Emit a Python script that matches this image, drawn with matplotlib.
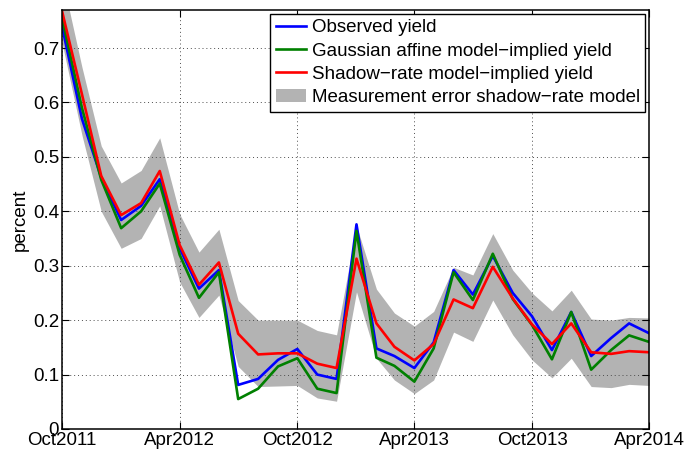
import matplotlib
matplotlib.use('Agg')
import matplotlib.pyplot as plt
import matplotlib.dates as mdates
import pandas as pd

plt.rcParams['font.family'] = ['Liberation Sans', 'DejaVu Sans']
plt.rcParams['font.size'] = 13.5

# monthly data, Oct 2011 - Apr 2014
months = pd.date_range('2011-10-01', '2014-04-01', freq='MS')
observed = [0.74, 0.57, 0.462, 0.384, 0.41, 0.459, 0.332, 0.258, 0.292, 0.081,
            0.092, 0.127, 0.147, 0.10, 0.092, 0.376, 0.148, 0.134, 0.112, 0.159,
            0.292, 0.247, 0.318, 0.25, 0.207, 0.145, 0.215, 0.134, 0.167, 0.194,
            0.176]
gaussian = [0.755, 0.59, 0.458, 0.369, 0.40, 0.451, 0.32, 0.241, 0.288, 0.055,
            0.074, 0.115, 0.130, 0.074, 0.066, 0.364, 0.131, 0.116, 0.087, 0.148,
            0.288, 0.237, 0.322, 0.239, 0.191, 0.128, 0.215, 0.109, 0.145, 0.172,
            0.160]
shadow = [0.768, 0.615, 0.465, 0.393, 0.415, 0.474, 0.338, 0.265, 0.306, 0.175,
          0.137, 0.139, 0.139, 0.12, 0.112, 0.313, 0.194, 0.151, 0.126, 0.156,
          0.238, 0.222, 0.298, 0.240, 0.192, 0.156, 0.194, 0.141, 0.138, 0.143,
          0.141]
band_lo = [0.71, 0.54, 0.40, 0.332, 0.35, 0.41, 0.27, 0.205, 0.246, 0.115,
           0.078, 0.079, 0.08, 0.057, 0.051, 0.252, 0.13, 0.09, 0.065, 0.09,
           0.178, 0.161, 0.237, 0.173, 0.127, 0.094, 0.13, 0.078, 0.076, 0.082,
           0.08]
band_hi = [0.83, 0.665, 0.52, 0.452, 0.475, 0.535, 0.395, 0.325, 0.367, 0.236,
           0.2, 0.2, 0.20, 0.181, 0.173, 0.373, 0.257, 0.213, 0.189, 0.216,
           0.297, 0.283, 0.359, 0.292, 0.25, 0.217, 0.255, 0.202, 0.2, 0.205,
           0.204]
tick_dates = pd.date_range('2011-10-01', '2014-04-01', freq='6MS')

fig = plt.figure(figsize=(6.89, 4.57), dpi=100)
ax = fig.add_axes([0.09, 0.0613, 0.852, 0.917])

ax.fill_between(months, band_lo, band_hi, color=(0.7, 0.7, 0.7), linewidth=0,
                label='Measurement error shadow\u2212rate model')
ax.plot(months, observed, color=(0, 0, 1), lw=1.9, label='Observed yield')
ax.plot(months, gaussian, color=(0, 0.5, 0), lw=1.9,
        label='Gaussian affine model\u2212implied yield')
ax.plot(months, shadow, color=(1, 0, 0), lw=1.9,
        label='Shadow\u2212rate model\u2212implied yield')

ax.set_xlim(months[0], months[-1])
ax.set_ylim(0, 0.77)
ax.set_xticks(tick_dates)
ax.xaxis.set_major_formatter(mdates.DateFormatter('%b%Y'))
ax.set_yticks([0, 0.1, 0.2, 0.3, 0.4, 0.5, 0.6, 0.7])
ax.set_yticklabels(['0', '0.1', '0.2', '0.3', '0.4', '0.5', '0.6', '0.7'])
ax.tick_params(direction='in', top=True, right=True, length=5, width=0.8, pad=2)
ax.grid(True, linestyle=(0, (1, 3)), color='0.3', linewidth=0.7)
for s in ax.spines.values():
    s.set_linewidth(1.1)
ax.set_ylabel('percent', labelpad=3)

h, l = ax.get_legend_handles_labels()
order = [1, 2, 3, 0]
leg = ax.legend([h[i] for i in order], [l[i] for i in order], loc='upper right',
                fancybox=False, framealpha=1, edgecolor='black',
                handlelength=1.6, handletextpad=0.3, labelspacing=0.33,
                borderpad=0.3, borderaxespad=0.2)
leg.get_frame().set_linewidth(1.0)

fig.savefig('out.png', dpi=100)
